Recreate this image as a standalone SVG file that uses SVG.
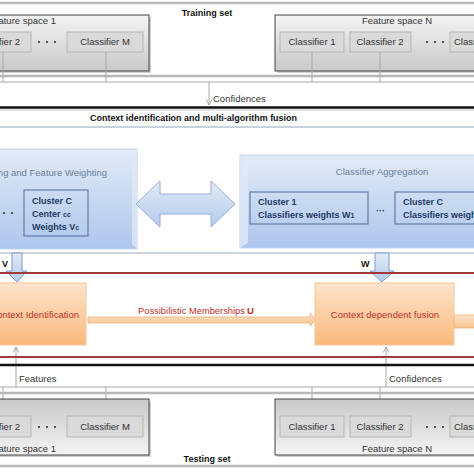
<svg xmlns="http://www.w3.org/2000/svg" width="474" height="474" viewBox="0 0 474 474">
<defs>
<linearGradient id="gfs" x1="0" y1="0" x2="0" y2="1"><stop offset="0" stop-color="#f4f4f4"/><stop offset="1" stop-color="#c9c9c9"/></linearGradient>
<linearGradient id="gfsb" x1="0" y1="0" x2="0" y2="1"><stop offset="0" stop-color="#c9c9c9"/><stop offset="1" stop-color="#f4f4f4"/></linearGradient>
<linearGradient id="gblue" x1="0" y1="0" x2="0" y2="1"><stop offset="0" stop-color="#e3ebf7"/><stop offset="1" stop-color="#adc6ec"/></linearGradient>
<linearGradient id="garrow" x1="0" y1="0" x2="0" y2="1"><stop offset="0" stop-color="#e2ebf7"/><stop offset="1" stop-color="#b4cbec"/></linearGradient>
<linearGradient id="gorange" x1="0" y1="0" x2="0" y2="1"><stop offset="0" stop-color="#fde4cc"/><stop offset="1" stop-color="#fab97c"/></linearGradient>
<linearGradient id="gshaft" x1="0" y1="0" x2="0" y2="1"><stop offset="0" stop-color="#fde3c9"/><stop offset="1" stop-color="#f8c28e"/></linearGradient>
<marker id="ah" viewBox="0 0 10 10" refX="9" refY="5" markerWidth="7" markerHeight="7" orient="auto"><path d="M1,1 L9,5 L1,9" fill="none" stroke="#999" stroke-width="1.2"/></marker>
</defs>
<style>
text{font-family:"Liberation Sans",Arial,sans-serif;}
.fs{fill:url(#gfs);stroke:#444;stroke-width:1;}
.fsb{fill:url(#gfsb);stroke:#444;stroke-width:1;}
.sh{fill:#d0d0d0;}
.cl{fill:#dadada;stroke:#b5b5b5;stroke-width:1;}
.t{font-size:9.5px;fill:#333;}
.b{font-size:9px;font-weight:bold;fill:#111;}
.wire{stroke:#a8a8a8;stroke-width:1;fill:none;}
.band{stroke:#b8b8b8;stroke-width:2.5;}
.blue{fill:url(#gblue);stroke:#c2d2ea;stroke-width:1;}
.bev{fill:#dfe8f6;opacity:0.8;}
.inner{fill:none;stroke:#4d6a97;stroke-width:1;}
.ct{font-size:9px;font-weight:bold;fill:#1f3a64;}
.bt{font-size:9.5px;fill:#6b7f9f;}
.orange{fill:url(#gorange);stroke:#f4c596;stroke-width:1;}
.rt{font-size:9.5px;fill:#c0302a;}
.red{stroke:#a33a3a;stroke-width:2;}
.blk{stroke:#111;stroke-width:2.5;}
.dot{fill:#333;}
</style>
<rect width="474" height="474" fill="#ffffff"/>

<!-- Training set section -->
<g id="training">
<line class="band" x1="0" y1="3" x2="474" y2="3"/>
<line class="band" x1="0" y1="76" x2="474" y2="76"/>
<text class="b" x="207" y="16" text-anchor="middle">Training  set</text>
</g>
<g id="train-fs1">
<rect class="sh" x="-58" y="17" width="209" height="56"/>
<rect class="fs" x="-60" y="15" width="209" height="56"/>
<text class="t" x="56" y="24" text-anchor="end">Feature space 1</text>
<rect class="cl" x="-35" y="32" width="66" height="20"/>
<text class="t" x="20" y="45" text-anchor="end">Classifier 2</text>
<circle class="dot" cx="39" cy="42" r="1.1"/><circle class="dot" cx="47" cy="42" r="1.1"/><circle class="dot" cx="55" cy="42" r="1.1"/>
<rect class="cl" x="67" y="32" width="76" height="20"/>
<text class="t" x="105" y="45" text-anchor="middle">Classifier M</text>
</g>
<g id="train-fsN">
<rect class="sh" x="277" y="17" width="245" height="56"/>
<rect class="fs" x="275" y="15" width="245" height="56"/>
<text class="t" x="397" y="24" text-anchor="middle">Feature space N</text>
<rect class="cl" x="280" y="32" width="64" height="20"/>
<text class="t" x="312" y="45" text-anchor="middle">Classifier 1</text>
<rect class="cl" x="350" y="32" width="61" height="20"/>
<text class="t" x="380" y="45" text-anchor="middle">Classifier 2</text>
<circle class="dot" cx="427" cy="42" r="1.1"/><circle class="dot" cx="435" cy="42" r="1.1"/><circle class="dot" cx="443" cy="42" r="1.1"/>
<rect class="cl" x="450" y="32" width="64" height="20"/>
<text class="t" x="454" y="45">Classifier M</text>
</g>

<!-- Fusion section -->
<g id="fusion-header">
<line class="blk" x1="0" y1="107.5" x2="474" y2="107.5"/>
<line x1="0" y1="110" x2="474" y2="110" stroke="#c8c8c8" stroke-width="1"/>
<text class="b" x="193.5" y="121" text-anchor="middle" textLength="207" lengthAdjust="spacingAndGlyphs">Context identification  and multi-algorithm fusion</text>
<line x1="0" y1="127" x2="474" y2="127" stroke="#b7c3d1" stroke-width="1.5"/>
<line x1="0" y1="253" x2="474" y2="253" stroke="#bcc6d2" stroke-width="1.5"/>
</g>
<g id="clustering">
<rect class="blue" x="-10" y="149" width="147" height="100"/>
<polygon class="bev" points="137,149 132,154 132,244 137,249"/>
<text class="bt" x="107" y="176" text-anchor="end">Clustering and Feature Weighting</text>
<circle class="dot" cx="4" cy="213" r="1.1"/><circle class="dot" cx="12" cy="213" r="1.1"/>
<rect class="inner" x="24" y="190" width="64" height="46"/>
<text class="ct" x="32" y="204">Cluster C</text>
<text class="ct" x="32" y="217">Center <tspan font-size="7">cc</tspan></text>
<text class="ct" x="32" y="230">Weights V<tspan font-size="7">c</tspan></text>
</g>
<g id="aggregation">
<rect class="blue" x="240" y="155" width="250" height="93"/>
<polygon class="bev" points="240,155 248,163 248,243 240,248"/>
<text class="bt" x="382" y="175" text-anchor="middle">Classifier Aggregation</text>
<rect class="inner" x="250" y="192" width="118" height="32"/>
<text class="ct" x="258" y="205">Cluster 1</text>
<text class="ct" x="258" y="218">Classifiers  weights W<tspan font-size="7">1</tspan></text>
<text class="ct" x="376" y="214">···</text>
<rect class="inner" x="395" y="192" width="95" height="32"/>
<text class="ct" x="403" y="205">Cluster C</text>
<text class="ct" x="403" y="218">Classifiers  weights W<tspan font-size="7">c</tspan></text>
</g>

<g id="connectors">
<!-- top wires -->
<line class="wire" x1="0" y1="82" x2="474" y2="82"/>
<line class="wire" x1="3" y1="52" x2="3" y2="82"/>
<line class="wire" x1="106" y1="52" x2="106" y2="82"/>
<line class="wire" x1="312" y1="52" x2="312" y2="82"/>
<line class="wire" x1="380" y1="52" x2="380" y2="82"/>
<line class="wire" x1="209" y1="82" x2="209" y2="105" marker-end="url(#ah)"/>
<text class="t" x="213" y="102" font-size="9">Confidences</text>
<!-- double arrow -->
<polygon points="136,204 160,181 160,194 211,194 211,181 235,204 211,227 211,214 160,214 160,227" fill="url(#garrow)" stroke="#98b0d2" stroke-width="1"/>
<!-- V and W arrows -->
<polygon points="12,253 22,253 22,271 27,271 17,282 6,271 12,271" fill="url(#garrow)" stroke="#7f9cc8" stroke-width="1"/>
<text class="b" x="2" y="267" font-size="8.5">V</text>
<polygon points="375,253 389,253 389,271 394,271 382,282 370,271 375,271" fill="url(#garrow)" stroke="#7f9cc8" stroke-width="1"/>
<text class="b" x="361" y="267" font-size="8.5">W</text>
<!-- memberships -->
<polygon points="88,317 310,317 310,313 316,320 310,326 310,323 88,323" fill="url(#gshaft)" stroke="#f0b27a" stroke-width="0.8"/>
<text class="rt" x="138" y="314" textLength="107" lengthAdjust="spacingAndGlyphs">Possibilistic Memberships</text>
<text class="rt" x="247" y="314" font-weight="bold">U</text>
<rect x="454" y="315" width="30" height="13" fill="url(#gshaft)" stroke="#f0b27a" stroke-width="0.8"/>
<!-- bottom wires -->
<line class="wire" x1="16" y1="387" x2="16" y2="347" marker-end="url(#ah)"/>
<line class="wire" x1="386" y1="387" x2="386" y2="347" marker-end="url(#ah)"/>
<text class="t" x="19" y="382" font-size="9">Features</text>
<text class="t" x="389" y="382" font-size="9">Confidences</text>
<line class="wire" x1="0" y1="387" x2="474" y2="387"/>
<line class="wire" x1="3" y1="387" x2="3" y2="416"/>
<line class="wire" x1="106" y1="387" x2="106" y2="416"/>
<line class="wire" x1="312" y1="387" x2="312" y2="416"/>
<line class="wire" x1="380" y1="387" x2="380" y2="416"/>
</g>

<g id="fusion-lines">
<line class="red" x1="0" y1="273" x2="474" y2="273"/>
<line class="red" x1="0" y1="357" x2="474" y2="357"/>
<line class="blk" x1="0" y1="365" x2="474" y2="365"/>
</g>
<g id="context-identification">
<rect class="orange" x="-10" y="283" width="96" height="62"/>
<text class="rt" x="79" y="318" text-anchor="end">Context Identification</text>
</g>
<g id="context-fusion">
<rect class="orange" x="315" y="283" width="139" height="62"/>
<text class="rt" x="385" y="318" text-anchor="middle">Context dependent fusion</text>
</g>

<!-- Testing set section -->
<g id="testing">
<line class="band" x1="0" y1="393" x2="474" y2="393"/>
<line class="band" x1="0" y1="466" x2="474" y2="466"/>
<text class="b" x="207" y="462" text-anchor="middle">Testing  set</text>
</g>
<g id="test-fs1">
<rect class="sh" x="-58" y="401" width="209" height="56"/>
<rect class="fsb" x="-60" y="399" width="209" height="56"/>
<rect class="cl" x="-35" y="416" width="66" height="21"/>
<text class="t" x="20" y="430" text-anchor="end">Classifier 2</text>
<circle class="dot" cx="39" cy="427" r="1.1"/><circle class="dot" cx="47" cy="427" r="1.1"/><circle class="dot" cx="55" cy="427" r="1.1"/>
<rect class="cl" x="67" y="416" width="76" height="21"/>
<text class="t" x="105" y="430" text-anchor="middle">Classifier M</text>
<text class="t" x="56" y="452" text-anchor="end">Feature space 1</text>
</g>
<g id="test-fsN">
<rect class="sh" x="277" y="401" width="245" height="56"/>
<rect class="fsb" x="275" y="399" width="245" height="56"/>
<rect class="cl" x="280" y="416" width="64" height="21"/>
<text class="t" x="312" y="430" text-anchor="middle">Classifier 1</text>
<rect class="cl" x="350" y="416" width="61" height="21"/>
<text class="t" x="380" y="430" text-anchor="middle">Classifier 2</text>
<circle class="dot" cx="427" cy="427" r="1.1"/><circle class="dot" cx="435" cy="427" r="1.1"/><circle class="dot" cx="443" cy="427" r="1.1"/>
<rect class="cl" x="450" y="416" width="64" height="21"/>
<text class="t" x="454" y="430">Classifier M</text>
<text class="t" x="397" y="452" text-anchor="middle">Feature space N</text>
</g>
</svg>
